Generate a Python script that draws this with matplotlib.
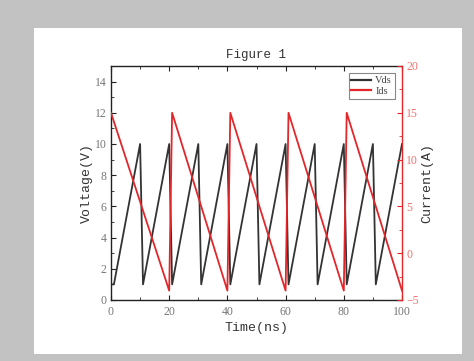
import matplotlib
matplotlib.use("Agg")
import matplotlib.pyplot as plt
from matplotlib.patches import Rectangle
from matplotlib.ticker import MultipleLocator

# Data
t_vds = [0, 1, 10, 11, 20, 21, 30, 31, 40, 41, 50, 51, 60, 61, 70, 71, 80, 81, 90, 91, 100]
vds = [1, 1, 10, 1, 10, 1, 10, 1, 10, 1, 10, 1, 10, 1, 10, 1, 10, 1, 10, 1, 10]
t_ids = [0, 20, 21, 40, 41, 60, 61, 80, 81, 100]
ids = [15, -4, 15, -4, 15, -4, 15, -4, 15, -4]

title = "Figure 1"
xlabel = "Time(ns)"
ylabel_left = "Voltage(V)"
ylabel_right = "Current(A)"
legend_labels = ["Vds", "Ids"]

BLACK = "#333333"
RED = "#e3262a"
LBL_FONT = "Liberation Mono"
TICK_FONT = "Liberation Serif"

fig = plt.figure(figsize=(4.74, 3.61), dpi=100, facecolor="#c2c2c2")
bg = Rectangle((34/474, 1-354/361), (462-34)/474, (354-28)/361,
               transform=fig.transFigure, facecolor="white",
               edgecolor="none", zorder=-10)
fig.add_artist(bg)

ax = fig.add_axes([111/474, 1-300/361, (402-111)/474, (300-66)/361])
ax.set_facecolor("white")
ax2 = ax.twinx()

l1, = ax.plot(t_vds, vds, color=BLACK, lw=1.3)
l2, = ax2.plot(t_ids, ids, color=RED, lw=1.3)

ax.set_xlim(0, 100)
ax.set_ylim(0, 15)
ax2.set_ylim(-5, 20)

ax.xaxis.set_major_locator(MultipleLocator(20))
ax.xaxis.set_minor_locator(MultipleLocator(10))
ax.yaxis.set_major_locator(MultipleLocator(2))
ax.yaxis.set_minor_locator(MultipleLocator(1))
ax2.yaxis.set_major_locator(MultipleLocator(5))
ax2.yaxis.set_minor_locator(MultipleLocator(2.5))

ax.tick_params(axis="x", which="both", direction="in", top=True, bottom=True,
               colors="#222222", labelcolor="#777777", pad=4)
ax.tick_params(axis="x", which="major", length=3.5, labelsize=8.5)
ax.tick_params(axis="x", which="minor", length=2)
ax.tick_params(axis="y", which="both", direction="in", left=True, right=False,
               colors="#222222", labelcolor="#777777", pad=3)
ax.tick_params(axis="y", which="major", length=3.5, labelsize=8.5)
ax.tick_params(axis="y", which="minor", length=2)
ax2.tick_params(axis="y", which="both", direction="in", right=True, left=False,
                colors=RED, labelcolor="#f07070", pad=3)
ax2.tick_params(axis="y", which="major", length=3.5, labelsize=8.5)
ax2.tick_params(axis="y", which="minor", length=2)

for a in (ax, ax2):
    for lab in a.get_xticklabels() + a.get_yticklabels():
        lab.set_fontfamily(TICK_FONT)

for s in ("left", "bottom", "top"):
    ax.spines[s].set_color("#222222")
    ax.spines[s].set_linewidth(1.0)
ax.spines["right"].set_visible(False)
ax2.spines["right"].set_color(RED)
ax2.spines["right"].set_linewidth(1.0)
for s in ("left", "bottom", "top"):
    ax2.spines[s].set_visible(False)

ax.set_title(title, fontfamily=LBL_FONT, fontsize=9, color="#333333", pad=6)
ax.set_xlabel(xlabel, fontfamily=LBL_FONT, fontsize=9.5, color="#333333", labelpad=3)
ax.set_ylabel(ylabel_left, fontfamily=LBL_FONT, fontsize=9.5, color="#333333", labelpad=1.5)
ax2.set_ylabel(ylabel_right, fontfamily=LBL_FONT, fontsize=9.5, color="#333333", labelpad=2)

leg = ax2.legend([l1, l2], legend_labels, loc="upper right",
                 prop={"family": TICK_FONT, "size": 7.5},
                 frameon=True, fancybox=False, edgecolor="#888888",
                 framealpha=1, borderaxespad=0.7, handlelength=1.9,
                 handletextpad=0.4, borderpad=0.25, labelspacing=0.15,
                 markerfirst=True)
leg.get_frame().set_linewidth(0.8)
for line in leg.get_lines():
    line.set_linewidth(1.6)
for txt in leg.get_texts():
    txt.set_color("#444444")

fig.savefig("out.png", dpi=100, facecolor=fig.get_facecolor())
